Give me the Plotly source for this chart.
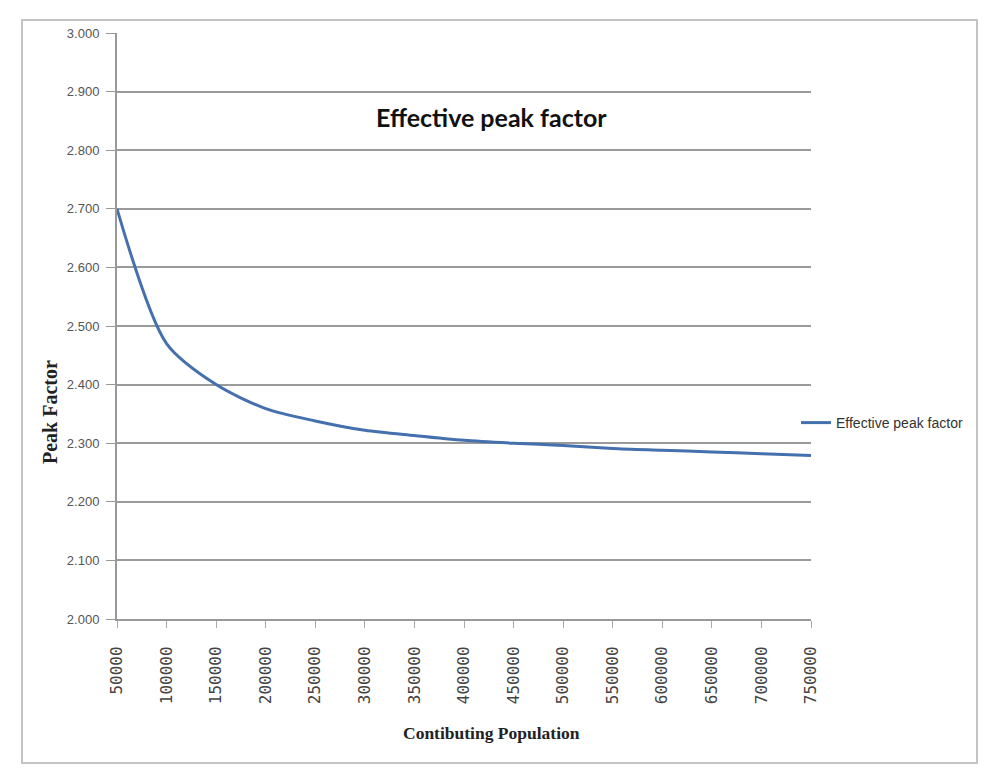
import plotly.graph_objects as go

population = ["50000", "100000", "150000", "200000", "250000", "300000", "350000",
              "400000", "450000", "500000", "550000", "600000", "650000", "700000", "750000"]
peak_factor = [2.700, 2.470, 2.400, 2.359, 2.338, 2.322, 2.313, 2.305,
               2.300, 2.296, 2.291, 2.288, 2.285, 2.282, 2.279]
y_ticks = [2.0, 2.1, 2.2, 2.3, 2.4, 2.5, 2.6, 2.7, 2.8, 2.9, 3.0]
series_name = "Effective peak factor"

W, H = 985, 768
L, R, T, B = 117, 811, 33, 619


def px(x):
    return (x - L) / (R - L)


def py(y):
    return (B - y) / (B - T)


fig = go.Figure()
fig.add_trace(go.Scatter(
    x=population, y=peak_factor, mode="lines", name=series_name,
    line=dict(color="#4470AE", width=3, shape="spline", smoothing=0.8),
))

fig.update_layout(
    width=W, height=H,
    margin=dict(l=L, r=W - R, t=T, b=H - B, autoexpand=False),
    paper_bgcolor="white", plot_bgcolor="white",
    showlegend=True,
    legend=dict(x=px(796), xanchor="left", y=py(423), yanchor="middle",
                font=dict(family="Liberation Sans Narrow, Arial Narrow, sans-serif", size=14, color="#333"),
                bgcolor="rgba(0,0,0,0)", itemwidth=30, tracegroupgap=0),
    xaxis=dict(type="category", range=[0, 14], showgrid=False,
               showline=True, linecolor="#999", linewidth=2,
               ticks="outside", ticklen=7, tickcolor="#aaa", tickwidth=1,
               ticklabelstandoff=12,
               tickangle=-90, tickfont=dict(family="DejaVu Sans Mono, monospace", size=16, color="#444"),
               zeroline=False),
    yaxis=dict(range=[2.0, 3.0], tickvals=y_ticks, tickformat=".3f",
               showgrid=True, gridcolor="#9a9a9a", gridwidth=2,
               showline=True, linecolor="#999", linewidth=2,
               ticks="outside", ticklen=9, tickcolor="#999", tickwidth=1,
               ticklabelstandoff=4,
               tickfont=dict(family="Liberation Sans, Arial, sans-serif", size=13, color="#555"),
               zeroline=False),
    shapes=[dict(type="rect", xref="paper", yref="paper",
                 x0=px(22), x1=px(977), y0=py(763), y1=py(20),
                 line=dict(color="#c4c4c4", width=2), fillcolor="rgba(0,0,0,0)", layer="below")],
    annotations=[
        dict(text="<b>Effective peak factor</b>", xref="paper", yref="paper",
             x=px(491), y=py(117), xanchor="center", yanchor="middle", showarrow=False,
             font=dict(family="Lato, sans-serif", size=25, color="#111")),
        dict(text="<b>Peak Factor</b>", xref="paper", yref="paper",
             x=px(50), y=py(412), xanchor="center", yanchor="middle", showarrow=False, textangle=-90,
             font=dict(family="Liberation Serif, Times New Roman, serif", size=20, color="#222")),
        dict(text="<b>Contibuting Population</b>", xref="paper", yref="paper",
             x=px(491), y=py(733), xanchor="center", yanchor="middle", showarrow=False,
             font=dict(family="Liberation Serif, Times New Roman, serif", size=17.5, color="#222")),
    ],
)

fig.write_html("out.html")
